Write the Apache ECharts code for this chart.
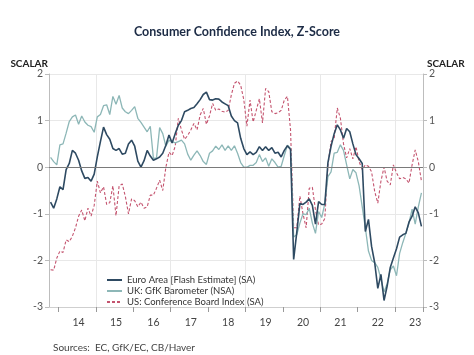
<!DOCTYPE html>
<html><head><meta charset="utf-8">
<script src="https://cdn.jsdelivr.net/npm/echarts@6/dist/echarts.min.js"></script>
<style>html,body{margin:0;padding:0;background:#fff}#c{width:474px;height:355px}</style>
</head><body><div id="c"></div>
<script>
// Monthly categories, Oct 2013 .. Sep 2023
const startYear = 2013, startMonth = 10, nMonths = 120;
const months = [];
for (let k = 0; k < nMonths; k++) {
  const m = startMonth - 1 + k;
  months.push((startYear + Math.floor(m / 12)) + '-' + String(m % 12 + 1).padStart(2, '0'));
}
const yearLabels = ['14','15','16','17','18','19','20','21','22','23'];
const gridMonths = ['2015-01','2017-01','2019-01','2021-01','2023-01'];

const euroArea = [
 -0.75,-0.88,-0.68,-0.42,-0.48,-0.05,0.08,0.36,0.30,0.15,-0.08,-0.24,
 -0.22,-0.30,-0.15,0.22,0.55,0.86,0.70,0.60,0.40,0.36,0.40,0.28,
 0.30,0.50,0.58,0.45,0.13,0.00,0.14,0.36,0.24,0.15,0.18,0.22,
 0.30,0.47,0.69,0.52,0.72,0.90,1.00,1.19,1.22,1.26,1.28,1.36,
 1.45,1.56,1.61,1.45,1.44,1.47,1.46,1.40,1.36,1.32,1.10,1.00,
 0.95,0.62,0.40,0.27,0.33,0.27,0.32,0.44,0.36,0.44,0.36,0.42,
 0.30,0.32,0.22,0.36,0.46,0.38,-1.98,-1.40,-0.78,-0.80,-0.75,-0.68,
 -0.82,-1.22,-0.74,-0.80,-0.80,0.10,0.45,0.72,0.91,0.80,0.62,0.83,
 0.76,0.50,0.27,0.18,0.08,-1.38,-1.12,-1.70,-2.05,-2.60,-2.30,-2.86,
 -2.55,-2.15,-1.95,-1.75,-1.50,-1.45,-1.42,-1.18,-1.05,-0.85,-0.98,-1.27
];
const ukGfk = [
 0.21,0.12,0.05,0.48,0.50,0.73,0.98,1.08,1.12,0.92,1.10,0.97,
 0.90,0.87,0.75,1.08,1.13,1.32,1.34,1.13,1.52,1.35,1.54,1.27,
 1.19,1.15,1.22,1.30,1.05,0.96,0.86,0.76,0.88,0.19,0.20,0.85,
 0.72,0.45,0.58,0.55,0.52,0.55,0.58,0.50,0.28,0.15,0.26,0.35,
 0.25,0.12,0.06,0.30,0.35,0.45,0.38,0.48,0.36,0.46,0.36,0.46,
 0.30,0.10,0.00,0.00,0.04,0.04,0.10,0.27,0.12,0.20,0.02,0.18,
 0.10,0.00,0.02,0.25,0.47,0.40,-1.50,-1.45,-1.20,-1.00,-1.02,-0.88,
 -1.20,-1.42,-0.95,-1.08,-0.78,-0.20,-0.10,0.30,0.32,0.48,0.36,0.05,
 -0.25,-0.05,-0.12,-0.40,-0.85,-1.30,-1.80,-2.00,-2.05,-2.15,-2.40,-2.68,
 -2.50,-2.20,-2.12,-2.33,-1.85,-1.62,-1.42,-1.20,-0.90,-1.22,-0.85,-0.55
];
const usConfBoard = [
 -2.20,-2.21,-1.95,-1.80,-1.83,-1.56,-1.60,-1.48,-1.30,-1.05,-0.92,-1.15,
 -0.88,-1.05,-0.82,-0.30,-0.55,-0.42,-0.80,-0.76,-0.40,-1.04,-0.40,-0.36,
 -0.63,-1.00,-0.68,-0.72,-0.85,-0.75,-0.88,-0.85,-0.60,-0.60,-0.45,-0.28,
 -0.50,0.00,0.32,0.25,0.45,1.05,0.80,0.60,0.68,0.80,0.94,0.80,
 1.12,1.26,0.92,1.10,1.37,1.22,1.25,1.20,1.18,1.22,1.55,1.80,
 1.85,1.76,1.45,0.88,1.44,0.97,1.22,1.47,0.95,1.69,1.62,1.19,
 1.15,1.17,1.22,1.44,1.52,0.80,-1.30,-1.30,-0.62,-1.00,-1.30,-0.45,
 -0.43,-0.92,-1.24,-1.22,-1.10,0.05,0.55,0.62,1.27,1.05,0.50,0.20,
 0.40,0.18,0.44,0.12,-0.05,0.05,0.02,-0.10,-0.52,-0.77,-0.30,0.00,
 -0.30,-0.38,0.05,-0.12,-0.25,-0.22,-0.25,-0.34,0.05,0.37,0.12,-0.30
];

const FONT = 'Lato';
const chart = echarts.init(document.getElementById('c'), null, {renderer: 'canvas'});
const yAxisBase = {
  type: 'value', min: -3, max: 2, interval: 1,
  name: 'SCALAR', nameLocation: 'end', nameGap: 5,
  axisLine: {show: true, lineStyle: {color: '#bdbdbd', width: 1}},
  axisTick: {show: true, length: 4, lineStyle: {color: '#bdbdbd'}},
  axisLabel: {color: '#555', fontSize: 10.5, fontFamily: FONT, margin: 6}
};
chart.setOption({
  animation: false,
  backgroundColor: '#fff',
  textStyle: {fontFamily: FONT},
  title: [
    {text: 'Consumer Confidence Index, Z-Score', left: 'center', top: 20,
     textStyle: {fontSize: 12.5, fontWeight: 'bold', color: '#1c2b45', fontFamily: FONT}},
    {text: 'Sources:  EC, GfK/EC, CB/Haver', left: 48, top: 338,
     textStyle: {fontSize: 10, fontWeight: 'normal', color: '#444', fontFamily: FONT}}
  ],
  grid: {left: 49, right: 51, top: 74, bottom: 48, containLabel: false},
  legend: {
    orient: 'vertical', left: 101, top: 270, itemGap: 1, itemWidth: 15, itemHeight: 10,
    itemStyle: {opacity: 0},
    textStyle: {fontSize: 9.5, color: '#333', fontFamily: FONT, lineHeight: 10},
    data: ['Euro Area [Flash Estimate] (SA)', 'UK: GfK Barometer (NSA)', 'US: Conference Board Index (SA)']
  },
  xAxis: {
    type: 'category', data: months, boundaryGap: true,
    axisLine: {show: true, onZero: false, lineStyle: {color: '#cfcfcf'}},
    axisTick: {show: true, length: 5, lineStyle: {color: '#999'},
               interval: (i, v) => v.endsWith('-01')},
    axisLabel: {interval: (i, v) => v.endsWith('-07'),
                formatter: v => yearLabels[parseInt(v.slice(0, 4)) - 2014],
                color: '#444', fontSize: 10.5, fontFamily: FONT, margin: 10},
    splitLine: {show: true, interval: (i, v) => gridMonths.includes(v),
                lineStyle: {color: '#e8e8e8'}}
  },
  yAxis: [
    Object.assign({}, yAxisBase, {position: 'left',
      nameTextStyle: {align: 'right', fontWeight: 'bold', fontSize: 10, color: '#222', fontFamily: FONT, padding: [0, 1, 0, 0]},
      splitLine: {show: true, lineStyle: {color: '#e8e8e8'}}}),
    Object.assign({}, yAxisBase, {position: 'right',
      nameTextStyle: {align: 'left', fontWeight: 'bold', fontSize: 10, color: '#222', fontFamily: FONT, padding: [0, 0, 0, 4]},
      splitLine: {show: false}})
  ],
  series: [
    {name: 'Euro Area [Flash Estimate] (SA)', type: 'line', data: euroArea, symbol: 'none', z: 4,
     lineStyle: {color: '#2e4a62', width: 1.6}, itemStyle: {color: '#2e4a62'},
     markLine: {silent: true, symbol: 'none', label: {show: false},
                lineStyle: {color: '#7a7a7a', width: 1, type: 'solid'}, data: [{yAxis: 0}]}},
    {name: 'UK: GfK Barometer (NSA)', type: 'line', data: ukGfk, symbol: 'none', z: 3,
     lineStyle: {color: '#8db7b7', width: 1.3}, itemStyle: {color: '#8db7b7'}},
    {name: 'US: Conference Board Index (SA)', type: 'line', data: usConfBoard, symbol: 'none', z: 2,
     lineStyle: {color: '#c4546f', width: 1.1, type: [3, 2]}, itemStyle: {color: '#c4546f'}}
  ]
});
</script></body></html>
